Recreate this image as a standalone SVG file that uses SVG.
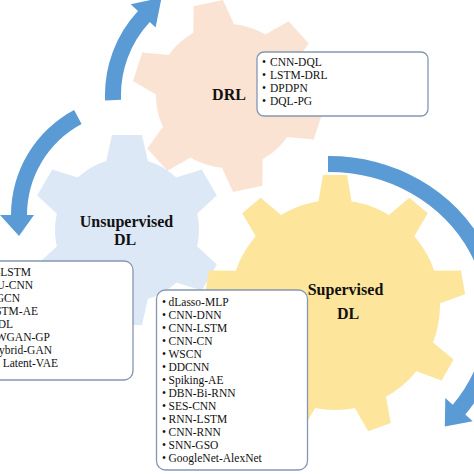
<svg xmlns="http://www.w3.org/2000/svg" xmlns:xlink="http://www.w3.org/1999/xlink" width="474" height="474" viewBox="0 0 474 474">
<style>
.box{fill:#ffffff;stroke:#8596B2;stroke-width:1.3}
.item{font-family:"Liberation Serif","Times New Roman",serif;font-size:11.5px;fill:#111}
.title{font-family:"Liberation Serif","Times New Roman",serif;font-size:16px;font-weight:bold;fill:#111;text-anchor:middle}
.arrow{fill:#5B9BD5}
</style>
<defs>
<path id="t6" d="M-21,-68 L-15,-95 L15,-95 L21,-68 Z"/>
<path id="t9" d="M-17,-101 L-12,-130 L12,-130 L17,-101 Z"/>
</defs>

<g id="gear-drl" fill="#FBE3D3" transform="translate(228,96) rotate(-12)">
<circle r="72"/>
<use xlink:href="#t6"/><use xlink:href="#t6" transform="rotate(60)"/><use xlink:href="#t6" transform="rotate(120)"/>
<use xlink:href="#t6" transform="rotate(180)"/><use xlink:href="#t6" transform="rotate(240)"/><use xlink:href="#t6" transform="rotate(300)"/>
</g>
<g id="gear-unsupervised" fill="#DCE8F5" transform="translate(127,230)">
<circle r="72"/>
<use xlink:href="#t6"/><use xlink:href="#t6" transform="rotate(60)"/><use xlink:href="#t6" transform="rotate(120)"/>
<use xlink:href="#t6" transform="rotate(180)"/><use xlink:href="#t6" transform="rotate(240)"/><use xlink:href="#t6" transform="rotate(300)"/>
</g>
<g id="gear-supervised" fill="#FDE59C" transform="translate(335,305)">
<circle r="105"/>
<use xlink:href="#t9"/><use xlink:href="#t9" transform="rotate(40)"/><use xlink:href="#t9" transform="rotate(80)"/>
<use xlink:href="#t9" transform="rotate(120)"/><use xlink:href="#t9" transform="rotate(160)"/><use xlink:href="#t9" transform="rotate(200)"/>
<use xlink:href="#t9" transform="rotate(240)"/><use xlink:href="#t9" transform="rotate(280)"/><use xlink:href="#t9" transform="rotate(320)"/>
</g>

<g id="connectors" class="arrow">
<path d="M105.1,100.4 A123,123 0 0 1 138.0,11.1 L130.7,4.3 L161.6,-2.4 L155.6,27.5 L149.8,22.0 A107,107 0 0 0 121.1,99.7 Z"/>
<path d="M74.1,109.9 A119,119 0 0 0 11,215 L0,215 L19,236 L34,215 L27,215 A103,103 0 0 1 81.6,124.1 Z"/>
<path d="M328,156 A173,160 0 0 1 465.3,414.5 L472.7,421.2 L444.8,426.4 L445.3,398 L452.7,404.7 A157,144 0 0 0 328,172 Z"/>
</g>

<g id="node-drl">
<text class="title" x="229" y="100">DRL</text>
<rect class="box" x="257" y="52" width="171" height="64" rx="7"/>
<text class="item" y="65.5"><tspan x="262">•</tspan><tspan x="270">CNN-DQL</tspan></text>
<text class="item" y="78.5"><tspan x="262">•</tspan><tspan x="270">LSTM-DRL</tspan></text>
<text class="item" y="91.5"><tspan x="262">•</tspan><tspan x="270">DPDPN</tspan></text>
<text class="item" y="104.5"><tspan x="262">•</tspan><tspan x="270">DQL-PG</tspan></text>
</g>

<g id="node-unsupervised">
<text class="title" x="126.5" y="227">Unsupervised</text>
<text class="title" x="125" y="245">DL</text>
<rect class="box" x="-10" y="261" width="143" height="119" rx="9"/>
<g class="item" text-anchor="end">
<text x="31" y="275.5">-LSTM</text>
<text x="33" y="288.5">U-CNN</text>
<text x="20" y="301.5">GCN</text>
<text x="38" y="314.5">STM-AE</text>
<text x="13" y="327.5">DL</text>
<text x="50" y="340.5">WGAN-GP</text>
<text x="52" y="353.5">ybrid-GAN</text>
<text x="58" y="366.5">t Latent-VAE</text>
</g>
</g>

<g id="node-supervised">
<text class="title" x="345.5" y="295">Supervised</text>
<text class="title" x="348" y="319">DL</text>
<rect class="box" x="156.5" y="290" width="151" height="180" rx="9"/>
<g class="item">
<text y="305.5"><tspan x="162">•</tspan><tspan x="168.5">dLasso-MLP</tspan></text>
<text y="318.5"><tspan x="162">•</tspan><tspan x="168.5">CNN-DNN</tspan></text>
<text y="331.5"><tspan x="162">•</tspan><tspan x="168.5">CNN-LSTM</tspan></text>
<text y="344.5"><tspan x="162">•</tspan><tspan x="168.5">CNN-CN</tspan></text>
<text y="357.5"><tspan x="162">•</tspan><tspan x="168.5">WSCN</tspan></text>
<text y="370.5"><tspan x="162">•</tspan><tspan x="168.5">DDCNN</tspan></text>
<text y="383.5"><tspan x="162">•</tspan><tspan x="168.5">Spiking-AE</tspan></text>
<text y="396.5"><tspan x="162">•</tspan><tspan x="168.5">DBN-Bi-RNN</tspan></text>
<text y="409.5"><tspan x="162">•</tspan><tspan x="168.5">SES-CNN</tspan></text>
<text y="422.5"><tspan x="162">•</tspan><tspan x="168.5">RNN-LSTM</tspan></text>
<text y="435.5"><tspan x="162">•</tspan><tspan x="168.5">CNN-RNN</tspan></text>
<text y="448.5"><tspan x="162">•</tspan><tspan x="168.5">SNN-GSO</tspan></text>
<text y="461.5"><tspan x="162">•</tspan><tspan x="168.5">GoogleNet-AlexNet</tspan></text>
</g>
</g>
</svg>
